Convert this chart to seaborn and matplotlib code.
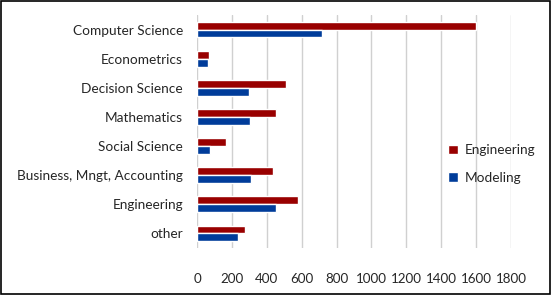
import pandas as pd
import matplotlib.pyplot as plt
import seaborn as sns

# dados
categorias = ['Computer Science', 'Econometrics', 'Decision Science', 'Mathematics',
              'Social Science', 'Business, Mngt, Accounting', 'Engineering', 'other']
engineering = [1600, 70, 510, 450, 165, 435, 580, 275]
modeling = [715, 65, 300, 305, 75, 310, 455, 235]
series = ['Engineering', 'Modeling']
cores = ['#990000', '#003c9a']
xticks = [0, 200, 400, 600, 800, 1000, 1200, 1400, 1600, 1800]

df = pd.DataFrame({
    'categoria': categorias * 2,
    'valor': engineering + modeling,
    'serie': [series[0]] * len(categorias) + [series[1]] * len(categorias),
})

sns.set_theme(style='whitegrid')
plt.rcParams['font.family'] = ['Lato', 'DejaVu Sans']

fig = plt.figure(figsize=(5.52, 2.95), dpi=100)
ax = fig.add_axes([197 / 552, 1 - 248 / 295, (511 - 197) / 552, (248 - 15) / 295])

sns.barplot(data=df, y='categoria', x='valor', hue='serie', hue_order=series,
            palette=cores, orient='h', width=0.54, gap=0, ax=ax, saturation=1)

ax.set_xlim(0, 1800)
ax.set_xticks(xticks)
ax.set_xticklabels([str(t) for t in xticks], fontsize=9.6)
ax.tick_params(axis='y', labelsize=9.8, pad=4)
ax.tick_params(axis='x', pad=12)
ax.set_xlabel('')
ax.set_ylabel('')
ax.grid(axis='x', color='#d0d0d0', linewidth=1)
ax.grid(axis='y', visible=False)
for s in ax.spines.values():
    s.set_visible(False)
ax.set_facecolor('white')

leg = ax.legend(loc='center left', bbox_to_anchor=(436 / 552, 1 - 164 / 295),
                bbox_transform=fig.transFigure, frameon=False, fontsize=9.8,
                handlelength=0.7, handleheight=0.7, handletextpad=0.5,
                labelspacing=1.15)
leg.set_zorder(5)

# moldura da figura
fig.patches.append(plt.Rectangle((0.002, 0.003), 0.995, 0.993, transform=fig.transFigure,
                                 fill=False, edgecolor='black', linewidth=1.2))

fig.savefig('out.png', dpi=100, facecolor='white')
